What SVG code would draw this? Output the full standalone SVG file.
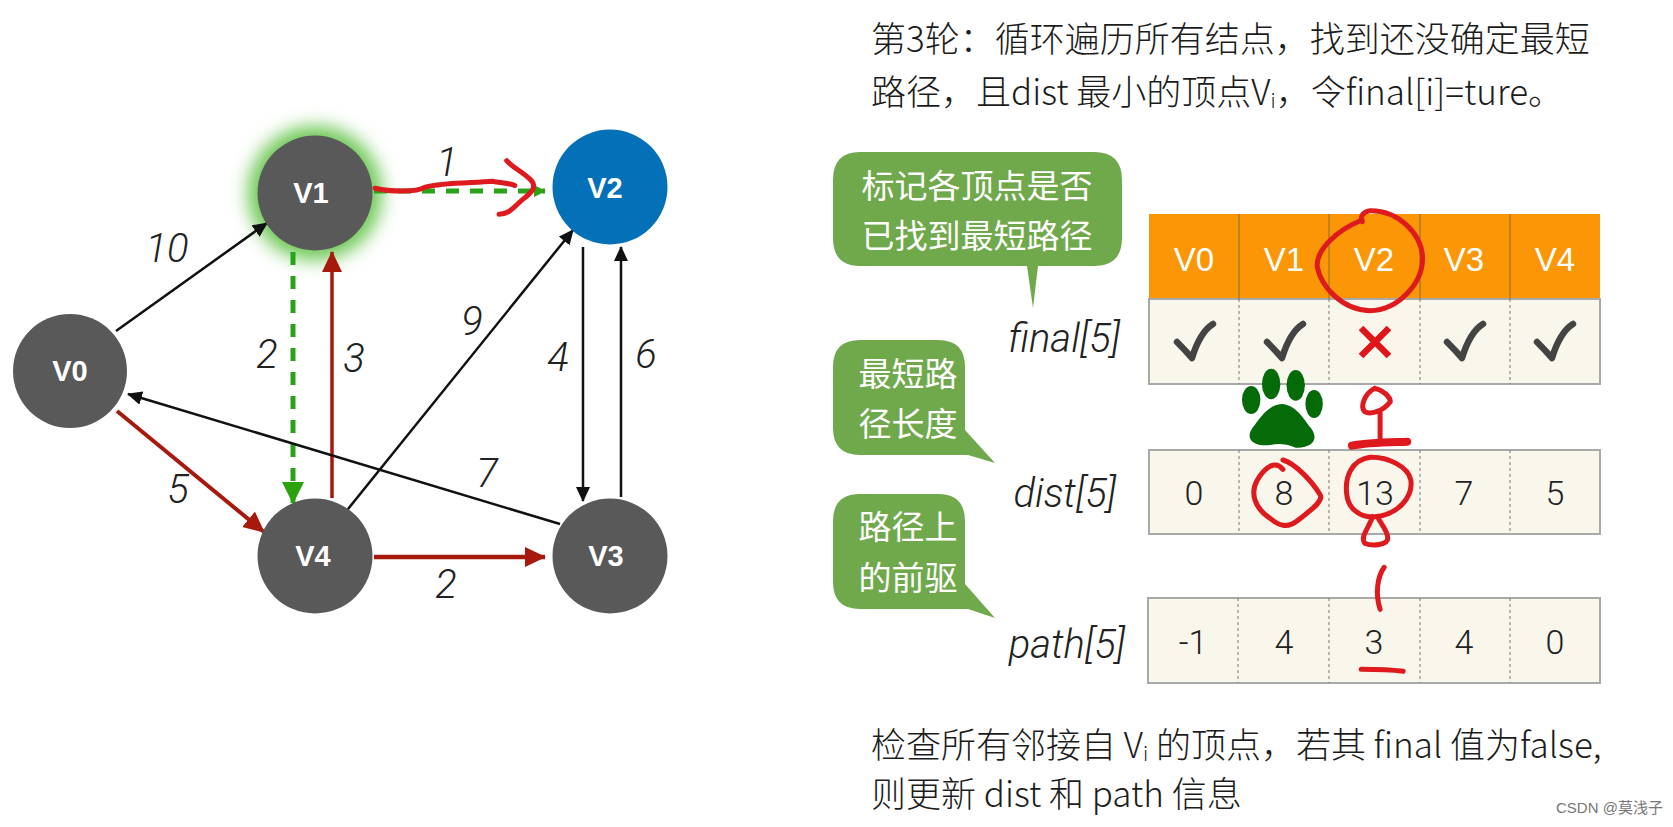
<svg xmlns="http://www.w3.org/2000/svg" width="1673" height="827" viewBox="0 0 1673 827">
<style>
text{font-family:"Liberation Sans","Noto Sans CJK SC",sans-serif}
.cjk{font-size:35px;fill:#1c1c1c;font-family:"Noto Sans CJK SC","Liberation Sans",sans-serif;font-weight:300}
.nl{font-size:29px;fill:#fff;text-anchor:middle;font-weight:700;font-family:"Liberation Sans",sans-serif}
.n{fill:#595959;stroke:none}
.w{font-family:Roboto,"Liberation Sans",sans-serif;font-weight:300;font-style:italic;font-size:40px;fill:#222;text-anchor:middle}
.row{font-family:Roboto,"Liberation Sans",sans-serif;font-weight:300;font-style:italic;font-size:40px;fill:#222;text-anchor:end}
.h{font-size:33px;fill:#fff;text-anchor:middle}
.v{font-family:Roboto,"Liberation Sans",sans-serif;font-weight:300;font-size:34px;fill:#222;text-anchor:middle}
.bub{fill:#70a94c}
.bt{font-family:"Noto Sans CJK SC",sans-serif;font-size:33px;fill:#fff;text-anchor:middle}
.cell{fill:#f9f6ec;stroke:#a9a9a9;stroke-width:2}
.div{stroke:#777;stroke-width:1;stroke-dasharray:3 3}
.k{stroke:#111;stroke-width:2.5;fill:none}
.r{stroke:#a8190d;fill:none}
.g{stroke:#2aa31a;stroke-width:5;stroke-dasharray:13 11;fill:none}
.hand{fill:none;stroke:#de1a1e;stroke-width:5;stroke-linecap:round;stroke-linejoin:round}
.hand path{vector-effect:non-scaling-stroke}
.chk{fill:none;stroke:#444;stroke-width:6.5;stroke-linecap:round;stroke-linejoin:round}
</style>
<defs>
<filter id="glow" x="-40%" y="-40%" width="180%" height="180%"><feGaussianBlur stdDeviation="9"/></filter>
<marker id="ak" markerUnits="userSpaceOnUse" markerWidth="16" markerHeight="14" refX="14" refY="7" orient="auto"><path d="M0 0L15 7L0 14Z" fill="#111"/></marker>
<marker id="ar" markerUnits="userSpaceOnUse" markerWidth="24" markerHeight="22" refX="20" refY="10" orient="auto"><path d="M0 0L21 10L0 20Z" fill="#a8190d"/></marker>
<marker id="ag" markerUnits="userSpaceOnUse" markerWidth="26" markerHeight="24" refX="21" refY="11" orient="auto"><path d="M0 0L22 11L0 22Z" fill="#2aa30f"/></marker>
<marker id="ag2" markerUnits="userSpaceOnUse" markerWidth="14" markerHeight="14" refX="11" refY="6" orient="auto"><path d="M0 0L12 6L0 12Z" fill="#2aa30f"/></marker>
</defs>
<rect width="1673" height="827" fill="#fff"/>

<circle cx="315" cy="193" r="67" fill="#6cc753" filter="url(#glow)"/>

<g id="connectors">
<line class="k" x1="116" y1="331" x2="267" y2="223" marker-end="url(#ak)"/>
<line class="r" stroke-width="4" x1="117" y1="411" x2="264" y2="532" marker-end="url(#ar)"/>
<line class="g" x1="374" y1="191" x2="545" y2="191" marker-end="url(#ag2)"/>
<line class="g" x1="293" y1="252" x2="293" y2="503" marker-end="url(#ag)"/>
<line class="r" stroke-width="3.5" x1="332" y1="498" x2="332" y2="252" marker-end="url(#ar)"/>
<line class="k" x1="344" y1="514" x2="573" y2="230" marker-end="url(#ak)"/>
<line class="k" x1="583" y1="247" x2="583" y2="501" marker-end="url(#ak)"/>
<line class="k" x1="621" y1="497" x2="621" y2="247" marker-end="url(#ak)"/>
<line class="k" x1="560" y1="524" x2="128" y2="394" marker-end="url(#ak)"/>
<line class="r" stroke-width="4.5" x1="374" y1="557" x2="545" y2="557" marker-end="url(#ar)"/>
</g>

<g id="node-v0"><circle class="n" cx="70" cy="371" r="57"/><text class="nl" x="70" y="381">V0</text></g>
<g id="node-v1"><circle class="n" cx="315" cy="193" r="57.5"/><text class="nl" x="311" y="203">V1</text></g>
<g id="node-v2"><circle cx="610" cy="187" r="57.5" fill="#0470b8"/><text class="nl" x="605" y="198">V2</text></g>
<g id="node-v3"><circle class="n" cx="610" cy="556" r="57.5"/><text class="nl" x="606" y="566">V3</text></g>
<g id="node-v4"><circle class="n" cx="315" cy="556" r="57.5"/><text class="nl" x="313" y="566">V4</text></g>

<g id="edge-labels">
<text class="w" x="167" y="262">10</text>
<text class="w" x="447" y="176">1</text>
<text class="w" x="267" y="368">2</text>
<text class="w" x="354" y="372">3</text>
<text class="w" x="472" y="335">9</text>
<text class="w" x="558" y="371">4</text>
<text class="w" x="646" y="368">6</text>
<text class="w" x="178" y="503">5</text>
<text class="w" x="487" y="487">7</text>
<text class="w" x="446" y="598">2</text>
</g>

<g id="hand-graph" class="hand" transform="translate(0 100) scale(.4476 .346)">
<path d="M838 255C870 265 930 268 950 252C990 238 1060 240 1100 235C1120 240 1140 240 1150 247"/>
<path d="M1132 175C1145 195 1165 205 1185 230C1200 250 1190 265 1170 285C1150 305 1140 330 1115 330"/>
</g>

<text class="cjk" x="871" y="52">第3轮：循环遍历所有结点，找到还没确定最短</text>
<text class="cjk" x="871" y="105">路径，且dist 最小的顶点V<tspan font-size="20" dy="3">i</tspan><tspan dy="-3">，令final[i]=ture。</tspan></text>

<g id="bubble-final">
<path class="bub" d="M860 152H1094Q1122 152 1122 180V238Q1122 266 1094 266H1038L1033 308L1027 266H860Q833 266 833 238V180Q833 152 860 152Z"/>
<text class="bt" x="977" y="198">标记各顶点是否</text>
<text class="bt" x="977" y="248">已找到最短路径</text>
</g>
<g id="bubble-dist">
<path class="bub" d="M860 340H938Q965 340 965 367V430L995 463L968 455H860Q833 455 833 428V367Q833 340 860 340Z"/>
<text class="bt" x="908" y="386">最短路</text>
<text class="bt" x="908" y="436">径长度</text>
</g>
<g id="bubble-path">
<path class="bub" d="M860 494H938Q965 494 965 521V584L995 618L968 609H860Q833 609 833 582V521Q833 494 860 494Z"/>
<text class="bt" x="908" y="539">路径上</text>
<text class="bt" x="908" y="590">的前驱</text>
</g>

<g id="table-final">
<rect x="1149" y="214" width="451" height="85" fill="#fb9606"/>
<rect class="cell" x="1149" y="299" width="451" height="85"/>
<path d="M1239 214V299M1329 214V299M1420 214V299M1510 214V299" stroke="#8a6a30" stroke-width="1"/>
<path class="div" d="M1239 299V384M1329 299V384M1420 299V384M1510 299V384"/>
<text class="h" x="1194" y="271">V0</text><text class="h" x="1284" y="271">V1</text><text class="h" x="1374" y="271">V2</text><text class="h" x="1464" y="271">V3</text><text class="h" x="1555" y="271">V4</text>
<g class="chk"><path d="M1177 342Q1185 350 1192 358Q1200 332 1213 324"/><path d="M1267 342Q1275 350 1282 358Q1290 332 1303 324"/><path d="M1447 342Q1455 350 1462 358Q1470 332 1483 324"/><path d="M1537 342Q1545 350 1552 358Q1560 332 1573 324"/></g>
<path d="M1361 328L1389 356M1389 328L1361 356" stroke="#e0161b" stroke-width="6.5" fill="none"/>
<text class="row" x="1120" y="352">final[5]</text>
</g>

<g id="table-dist">
<rect class="cell" x="1149" y="450" width="451" height="84"/>
<path class="div" d="M1239 450V534M1329 450V534M1420 450V534M1510 450V534"/>
<text class="v" x="1194" y="505">0</text><text class="v" x="1284" y="505">8</text><text class="v" x="1375" y="505">13</text><text class="v" x="1464" y="505">7</text><text class="v" x="1555" y="505">5</text>
<text class="row" x="1116" y="507">dist[5]</text>
</g>

<g id="table-path">
<rect class="cell" x="1148" y="598" width="452" height="85"/>
<path class="div" d="M1238 598V683M1329 598V683M1420 598V683M1510 598V683"/>
<text class="v" x="1193" y="654">-1</text><text class="v" x="1284" y="654">4</text><text class="v" x="1374" y="654">3</text><text class="v" x="1464" y="654">4</text><text class="v" x="1555" y="654">0</text>
<text class="row" x="1125" y="658">path[5]</text>
</g>

<g id="paw" transform="translate(820 380) scale(.5115 .3333)" fill="#056a08">
<ellipse cx="843" cy="60" rx="18" ry="42"/><ellipse cx="882" cy="12" rx="18" ry="46"/><ellipse cx="930" cy="16" rx="18" ry="46"/><ellipse cx="966" cy="72" rx="17" ry="42"/>
<path d="M903 72C875 75 860 115 845 145C830 180 850 200 880 195C895 190 910 190 930 203C965 205 975 175 960 145C945 115 930 75 903 72Z"/>
</g>

<g class="hand" transform="translate(820 140) scale(.5115 .3333)">
<path d="M1060 240C1010 270 970 330 972 380C980 440 1020 510 1075 512C1130 510 1180 430 1178 350C1175 280 1130 210 1075 212C1060 215 1055 235 1060 245"/>
</g>
<g class="hand" transform="translate(820 380) scale(.5115 .3333)">
<path d="M905 268C890 240 870 260 855 300C840 340 850 385 880 415C900 440 915 445 935 420C955 395 985 365 978 345C965 310 930 250 905 240"/>
<path d="M1075 232C1040 240 1025 290 1030 345C1033 390 1060 415 1085 410C1130 405 1160 350 1155 300C1150 260 1110 230 1075 232Z"/>
<path d="M1080 410C1075 440 1055 470 1065 490C1080 500 1110 495 1110 475C1110 450 1095 430 1090 410"/>
<path d="M1085 25C1065 40 1055 80 1065 95C1075 105 1100 95 1115 65C1115 50 1100 30 1085 25M1095 100L1095 180"/>
<path stroke-width="8" d="M1040 197C1070 187 1110 187 1148 185"/>
<path d="M1103 562C1090 590 1085 640 1095 688"/>
<path d="M1058 868C1080 868 1110 868 1140 874"/>
</g>

<text class="cjk" x="871" y="758">检查所有邻接自 V<tspan font-size="20" dy="3">i</tspan><tspan dy="-3"> 的顶点，若其 final 值为false,</tspan></text>
<text class="cjk" x="871" y="807">则更新 dist 和 path 信息</text>
<text x="1556" y="813" font-size="15" fill="#777" style="font-family:'Liberation Sans','Noto Sans CJK SC',sans-serif">CSDN @莫浅子</text>
</svg>
